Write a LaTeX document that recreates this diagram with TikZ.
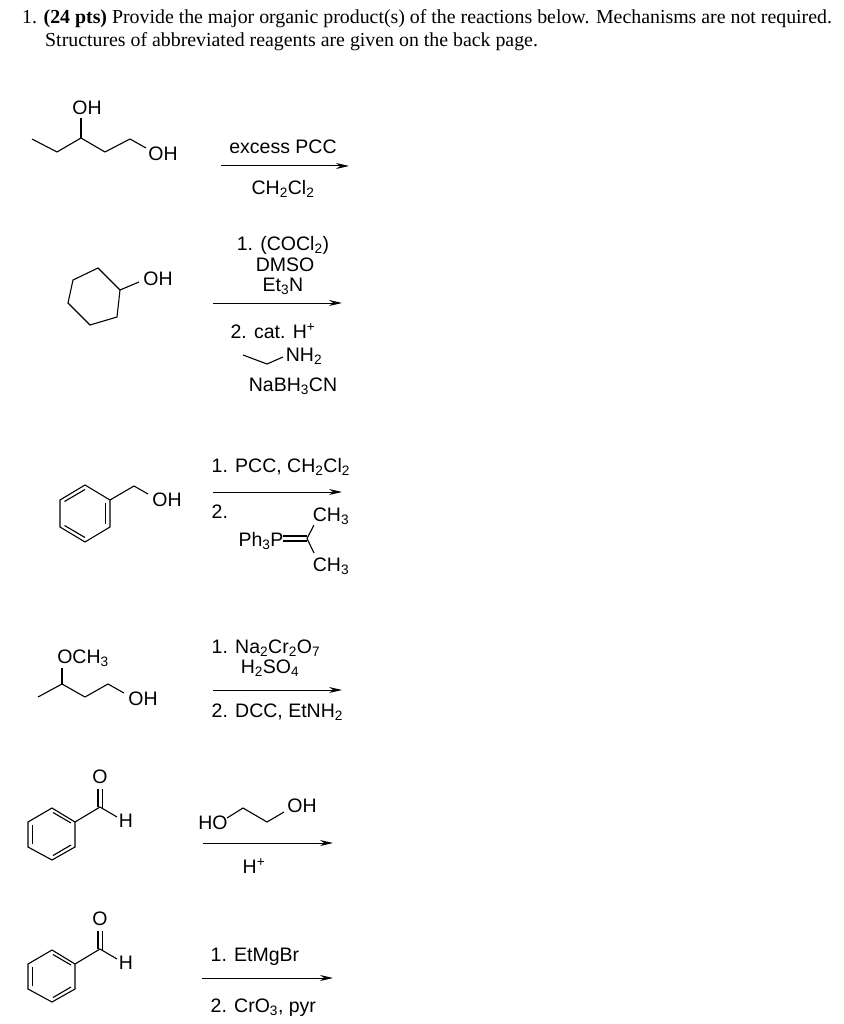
\documentclass[tikz,border=0pt]{standalone}
\usepackage{fontspec}
\setmainfont{Liberation Serif}
\newfontfamily\arial{Liberation Sans}
\usetikzlibrary{arrows.meta}
\newcommand{\sbs}[1]{\textsubscript{#1}}
\newcommand{\sps}[1]{\textsuperscript{#1}}
\begin{document}
\begin{tikzpicture}[x=1pt,y=-1pt,
  bond/.style={line width=1.1pt},
  rxn/.style={line width=1pt,-{Stealth[length=13pt,width=6pt]}},
  lab/.style={font=\arial\fontsize{19.5}{22}\selectfont,inner sep=0.5pt},
  hdr/.style={font=\fontsize{19.85}{22}\selectfont,anchor=west,inner sep=0pt}]
\useasboundingbox (0,0) rectangle (843,1024);
\node[hdr] (h1) at (22,19) {1. \textbf{(24 pts)} Provide the major organic product(s) of the reactions below. Mechanisms are not required.};
\node[hdr] (h2) at (45,42) {Structures of abbreviated reagents are given on the back page.};
% ---- molecule 1
\coordinate (a1) at (32,139); \coordinate (a2) at (57,152); \coordinate (a3) at (81,138);
\coordinate (a4) at (105,152); \coordinate (a5) at (130,139);
\node[lab] (o1) at (87,108) {OH}; \node[lab] (o2) at (163,154) {OH};
\draw[bond] (a1)--(a2)--(a3)--(a4)--(a5)--(146,148);
\draw[bond] (a3)--(81,118);
\node[lab] (r1a) at (283,147) {excess PCC};
\node[lab] (r1b) at (283,189) {CH\sbs{2}Cl\sbs{2}};
\coordinate (s1) at (221,166); \coordinate (e1) at (349,166);
\draw[rxn] (s1)--(e1);
% ---- molecule 2
\draw[bond] (68,303)--(73,280)--(98,268)--(120,290)--(117,317)--(90,325)--cycle;
\draw[bond] (120,290)--(139,282);
\node[lab] (o3) at (158,279) {OH};
\node[lab] (r2a) at (283,245) {1. (COCl\sbs{2})};
\node[lab] (r2b) at (285,265) {DMSO};
\node[lab] (r2c) at (283,286) {Et\sbs{3}N};
\node[lab] (r2d) at (273,331) {2. cat. H\sps{+}};
\draw[bond] (243,355)--(267,364)--(283,357);
\node[lab] (r2e) at (304,356) {NH\sbs{2}};
\node[lab] (r2f) at (293,386) {NaBH\sbs{3}CN};
\coordinate (s2) at (213,303); \coordinate (e2) at (342,303);
\draw[rxn] (s2)--(e2);
% ---- molecule 3 benzyl alcohol
\coordinate (b1) at (60,500); \coordinate (b2) at (85,485); \coordinate (b3) at (110,500);
\coordinate (b4) at (110,527); \coordinate (b5) at (85,542); \coordinate (b6) at (60,527);
\draw[bond] (b1)--(b2)--(b3)--(b4)--(b5)--(b6)--cycle;
\draw[bond] (64.5,501.5)--(85,489.5); \draw[bond] (105.5,503)--(105.5,524); \draw[bond] (64.5,525.5)--(85,537.5);
\draw[bond] (b3)--(134,486)--(148,494);
\node[lab] (o4) at (167,500) {OH};
\node[lab,anchor=west] (r3a) at (211,467) {1. PCC, CH\sbs{2}Cl\sbs{2}};
\node[lab,anchor=west] (r3b) at (211,512) {2.};
\node[lab] (r3c) at (331,516) {CH\sbs{3}};
\node[lab] (r3d) at (261,541) {Ph\sbs{3}P};
\node[lab] (r3e) at (331,566) {CH\sbs{3}};
\draw[bond] (283,536)--(307,536); \draw[bond] (283,541)--(307,541);
\draw[bond] (314,525)--(307,538.5)--(314,553);
\coordinate (s3) at (213,492); \coordinate (e3) at (342,492);
\draw[rxn] (s3)--(e3);
% ---- molecule 4
\draw[bond] (38,697)--(62,684)--(85,697)--(108,684)--(124,693);
\draw[bond] (62,684)--(62,668);
\node[lab] (o5) at (83,658) {OCH\sbs{3}};
\node[lab] (o6) at (143,699) {OH};
\node[lab,anchor=west] (r4a) at (211,648) {1. Na\sbs{2}Cr\sbs{2}O\sbs{7}};
\node[lab] (r4b) at (270,668) {H\sbs{2}SO\sbs{4}};
\node[lab,anchor=west] (r4c) at (211,712) {2. DCC, EtNH\sbs{2}};
\coordinate (s4) at (213,690); \coordinate (e4) at (342,690);
\draw[rxn] (s4)--(e4);
% ---- benzaldehydes
\foreach \dy in {0,142}{
\begin{scope}[yshift=-\dy pt]
\draw[bond] (28,822)--(52,808)--(75,822)--(75,847)--(52,860)--(28,847)--cycle;
\draw[bond] (32.5,825)--(32.5,844); \draw[bond] (53,812.5)--(71,823); \draw[bond] (53,855.5)--(71,845);
\draw[bond] (75,822)--(100,807)--(117,817);
\draw[bond] (98,807)--(98,789); \draw[bond] (102.5,809)--(102.5,789);
\end{scope}}
\node[lab] (oa) at (100,777) {O}; \node[lab] (ha) at (126,821) {H};
\node[lab] (ob) at (100,919) {O}; \node[lab] (hb) at (126,963) {H};
\node[lab] (r5a) at (213,823) {HO};
\draw[bond] (227,818)--(243,808)--(267,822)--(284,812);
\node[lab] (r5b) at (302,806) {OH};
\node[lab] (r5c) at (254,866) {H\sps{+}};
\coordinate (s5) at (203,843); \coordinate (e5) at (333,843);
\draw[rxn] (s5)--(e5);
\node[lab,anchor=west] (r6a) at (210,957) {1. EtMgBr};
\node[lab,anchor=west] (r6b) at (210,1008) {2. CrO\sbs{3}, pyr};
\coordinate (s6) at (202,978); \coordinate (e6) at (333,978);
\draw[rxn] (s6)--(e6);
\end{tikzpicture}
\end{document}
